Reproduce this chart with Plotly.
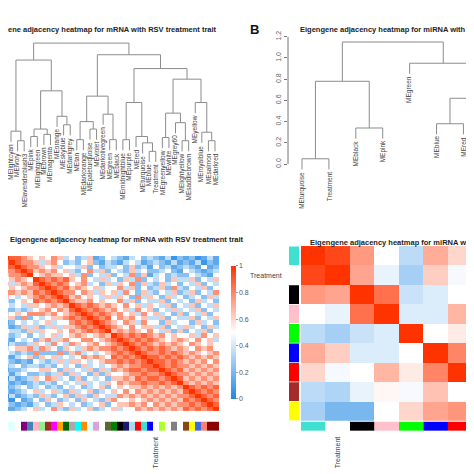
import plotly.graph_objects as go

# ---- data ----
mrna_leaves = ["MElightcyan", "MEivory", "MElavenderblush3", "MEpink", "MElightgreen", "MEbrown",
               "MEmagenta", "MEorange", "MEskyblue", "MEdarkgrey", "MEtan", "MEdarkorange",
               "MEpaleturquoise", "MEviolet", "MEdarkolivegreen", "MEgreen", "MEblack",
               "MEmidnightblue", "MEpurple", "MEred", "MEturquoise", "MEblue", "Treatment",
               "MEgreenyellow", "MEwhite", "MEgrey60", "MElightyellow", "MEsaddlebrown",
               "MEyellow", "MEroyalblue", "MEsalmon", "MEdarkred"]
# nested merges: (left, right, height)
mrna_tree = (
    ((0, (1, 2, .22), .31),
     ((((3, 4, .26), (5, 6, .28), .33)), (7, (8, 9, .37), .45), .69), .98),
    ((((10, 11, .23), (12, 13, .33), .40), (14, (15, 16, .23), .47), .64),
     (((17, 18, .23), (19, (20, (21, 22, .12), .20), .26), .58),
      (((23, 24, .25), (25, (26, 27, .22), .39), .48), (28, (29, (30, 31, .22), .30), .58), .80),
      .90), 1.03),
    1.14)

mirna_leaves = ["MEturquoise", "Treatment", "MEblack", "MEpink", "MEgreen",
                "MEblue", "MEred", "MEbrown", "MEyellow"]
mirna_tree = (((0, 1, .05), (2, 3, .34), .78),
              (4, ((5, 6, .38), (7, 8, .45), .62), .95), 1.15)

# upper triangle of the mRNA adjacency, one digit per cell (level index)
mrna_levels = [0.0, 0.06, 0.14, 0.24, 0.36, 0.5, 0.64, 0.77, 0.88, 1.0]
mrna_upper = [
    "98876 565764 5346235 4324534 32413 231242",
    "9877 646753 4356324 3245423 43242 324132",
    "987 765645 5463534 4536342 53423 432523",
    "98 676756 4357463 5436453 34532 543234",
    "9 567665 6473546 3547362 45343 354325",
    "987878 6575464 5364735 45364 463546",
    "98787 5674536 4657364 36453 546354",
    "9878 6765645 5746353 46374 354635",
    "987 7576465 6475364 35463 463547",
    "98 6756546 4653746 53645 345364",
    "9 7667565 5746354 46354 536453",
    "9878767 6575646 54635 463546",
    "987876 7564756 35464 546354",
    "98787 6756475 64536 354635",
    "9878 5767564 46354 463546",
    "987 6576475 53645 536453",
    "98 7657566 46354 645364",
    "9 6767657 54636 354635",
    "9878787 67565 564756",
    "987878 76567 657564",
    "98787 67676 576565",
    "9878 78767 657675",
    "987 78787 676567",
    "98 87878 767676",
    "9 88787 676757",
    "98787 767676",
    "9878 676767",
    "987 767676",
    "98 676767",
    "9 767676",
    "987878",
    "98787",
    "9878",
    "987",
    "98",
    "9",
]
mrna_strip = ["lightcyan", "lightcyan", "white", "purple", "steelblue", "lightpink", "lightgreen",
              "brown", "magenta", "orange", "darkgreen", "darkgrey", "cyan", "darkorange",
              "lightcyan", "plum", "white", "darkolivegreen", "green", "black", "midnightblue",
              "lightblue", "red", "turquoise", "blue", "white", "greenyellow", "white", "grey",
              "white", "saddlebrown", "yellow", "royalblue", "salmon", "darkred", "darkred"]

mirna_adj = [
    [1.00, .95, .75, .50, .35, .70, .60, .35, .30],
    [.95, 1.00, .72, .45, .30, .62, .48, .32, .20],
    [.75, .72, 1.00, .85, .38, .42, .50, .45, .20],
    [.50, .45, .85, 1.00, .42, .42, .68, .52, .50],
    [.35, .30, .38, .42, 1.00, .50, .55, .48, .60],
    [.70, .62, .42, .42, .50, 1.00, .80, .65, .72],
    [.60, .48, .50, .68, .55, .80, 1.00, .50, .76],
    [.35, .32, .45, .52, .48, .65, .50, 1.00, .80],
    [.30, .20, .20, .50, .60, .72, .76, .80, 1.00],
]
mirna_colors = ["#40E0D0", "white", "black", "pink", "#00FF00", "#0000FF", "#FF0000", "#A52A2A", "#FFFF00"]

# ---- helpers ----
W = 474
FONT = "Liberation Sans"
LINE = "#8c8c8c"
HANG = 0.1


def dx(a, b):
    return [a / W, b / W]


def dy(top, bottom):
    return [1 - bottom / W, 1 - top / W]


def walk(node, xs, ys, tips):
    # returns (x, height) of node, appends segments
    if isinstance(node, int):
        return node, None
    l, r, h = node
    pts = []
    for child in (l, r):
        cx, ch = walk(child, xs, ys, tips)
        if ch is None:
            ch = h - HANG
            tips.append((child, ch))
        xs += [cx, cx, None]
        ys += [ch, h, None]
        pts.append(cx)
    xs += [pts[0], pts[1], None]
    ys += [h, h, None]
    return (pts[0] + pts[1]) / 2, h


n = len(mrna_upper)
mrna_adj = [[0.0] * n for _ in range(n)]
for i, row in enumerate(mrna_upper):
    digits = row.replace(" ", "")
    for k, d in enumerate(digits):
        j = i + k
        mrna_adj[i][j] = mrna_adj[j][i] = mrna_levels[int(d)]

scale = [[0, "#1E88E5"], [0.5, "#FFFFFF"], [1, "#FF3300"]]

fig = go.Figure()
annotations = []
shapes = []

# dendrograms
for tree, leaves, xa, ya in ((mrna_tree, mrna_leaves, "x", "y"), (mirna_tree, mirna_leaves, "x2", "y2")):
    xs, ys, tips = [], [], []
    walk(tree, xs, ys, tips)
    fig.add_trace(go.Scatter(x=xs, y=ys, mode="lines", line=dict(color=LINE, width=1),
                             xaxis=xa, yaxis=ya, hoverinfo="skip", showlegend=False))
    for leaf, h in tips:
        annotations.append(dict(x=leaf, y=h, xref=xa, yref=ya, text=leaves[leaf], textangle=-90,
                                showarrow=False, xanchor="center", yanchor="top",
                                font=dict(size=6.5, color="#444", family=FONT)))

# heatmaps
fig.add_trace(go.Heatmap(z=mrna_adj, x=list(range(n)), y=list(range(n)), colorscale=scale,
                         zmin=0, zmax=1, xaxis="x3", yaxis="y3",
                         colorbar=dict(x=213 / W, xanchor="left", y=1 - 245 / W, yanchor="top",
                                       len=155 / W, lenmode="fraction", thickness=5, outlinewidth=0,
                                       tickvals=[0, .2, .4, .6, .8, 1], ticktext=["0", "0.2", "0.4", "0.6", "0.8", "1"],
                                       ticks="outside", ticklen=2, tickcolor="#999",
                                       tickfont=dict(size=7, color="#555", family=FONT))))
fig.add_trace(go.Heatmap(z=mirna_adj, colorscale=scale, zmin=0, zmax=1, showscale=False,
                         xaxis="x4", yaxis="y4"))

for i, c in enumerate(mrna_strip):
    shapes.append(dict(type="rect", xref="x3", yref="paper", x0=i - 0.5, x1=i + 0.5,
                       y0=1 - 422 / W, y1=1 - 413 / W, fillcolor=c, line_width=0))
for i, c in enumerate(mirna_colors):
    shapes.append(dict(type="rect", xref="x4", yref="paper", x0=i - 0.5, x1=i + 0.5,
                       y0=1 - 422 / W, y1=1 - 413 / W, fillcolor=c, line_width=0))
    shapes.append(dict(type="rect", xref="paper", yref="y4", x0=281 / W, x1=291 / W,
                       y0=i - 0.48, y1=i + 0.48, fillcolor=c, line_width=0))

# y axis line of miRNA dendrogram
shapes.append(dict(type="line", xref="x2 domain", yref="y2", x0=0, x1=0, y0=0, y1=1.2,
                   line=dict(color="#777", width=1)))

# text
tfont = dict(size=7.5, color="#222", family=FONT)
title_m = "<b>Eigengene adjacency heatmap for mRNA with RSV treatment trait</b>"
title_mi = "<b>Eigengene adjacency heatmap for miRNA with RSV treatment trait</b>"
annotations += [
    dict(x=211 / W, y=1 - 16 / W, xref="paper", yref="paper", text=title_m, xanchor="right",
         yanchor="middle", showarrow=False, font=tfont),
    dict(x=290 / W, y=1 - 16 / W, xref="paper", yref="paper", text=title_mi, xanchor="left",
         yanchor="middle", showarrow=False, font=tfont),
    dict(x=0, y=1 - 228 / W, xref="paper", yref="paper", text=title_m, xanchor="left",
         yanchor="middle", showarrow=False, font=tfont),
    dict(x=300 / W, y=1 - 231 / W, xref="paper", yref="paper", text=title_mi, xanchor="left",
         yanchor="middle", showarrow=False, font=tfont),
    dict(x=247 / W, y=1 - 16 / W, xref="paper", yref="paper", text="<b>B</b>", xanchor="center",
         yanchor="middle", showarrow=False, font=dict(size=13, color="#111", family=FONT)),
    dict(x=mrna_strip.index("white", 20), y=1 - 426 / W, xref="x3", yref="paper", text="Treatment",
         textangle=-90, xanchor="center", yanchor="top", showarrow=False,
         font=dict(size=7, color="#444", family=FONT)),
    dict(x=1, y=1 - 426 / W, xref="x4", yref="paper", text="Treatment",
         textangle=-90, xanchor="center", yanchor="top", showarrow=False,
         font=dict(size=7, color="#444", family=FONT)),
    dict(x=276 / W, y=1, xref="paper", yref="y4", text="Treatment", xanchor="right",
         yanchor="middle", showarrow=False, font=dict(size=7, color="#444", family=FONT)),
]

hidden = dict(visible=False, fixedrange=True)
y_dend = dict(domain=dy(23, 200), range=[-0.4465, 1.2], fixedrange=True)
fig.update_layout(
    width=W, height=W, margin=dict(l=0, r=0, t=0, b=0),
    paper_bgcolor="white", plot_bgcolor="white",
    xaxis=dict(domain=dx(0, 237), range=[-0.456, 35.56], **hidden),
    yaxis=dict(**y_dend, visible=False),
    xaxis2=dict(domain=dx(280, 474), range=[-0.52, 6.69], **hidden),
    yaxis2=dict(**y_dend, anchor="x2", showgrid=False, zeroline=False, showline=False,
                tickvals=[0, .2, .4, .6, .8, 1.0, 1.2],
                ticktext=["0.0", "0.2", "0.4", "0.6", "0.8", "1.0", "1.2"],
                tickangle=-90, ticks="outside", ticklen=3, tickcolor="#777",
                tickfont=dict(size=7, color="#666", family=FONT)),
    xaxis3=dict(domain=dx(0, 211), range=[0.33, 35.5], anchor="y3", **hidden),
    yaxis3=dict(domain=dy(245, 402), range=[35.5, -0.5], anchor="x3", **hidden),
    xaxis4=dict(domain=dx(293, 474), range=[-0.5, 6.89], anchor="y4", **hidden),
    yaxis4=dict(domain=dy(235, 412), range=[8.5, -0.5], anchor="x4", **hidden),
    annotations=annotations, shapes=shapes, showlegend=False,
)

fig.write_html("out.html")
